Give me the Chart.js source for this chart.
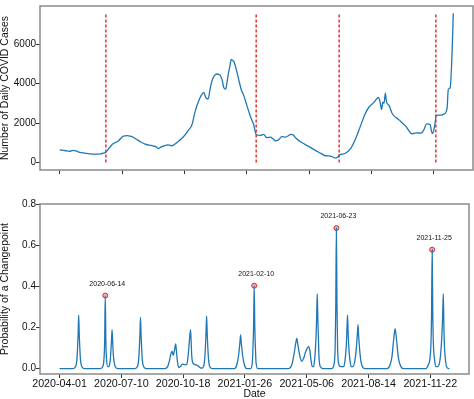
<!DOCTYPE html>
<html>
<head>
<meta charset="utf-8">
<script src="https://cdn.jsdelivr.net/npm/chart.js@4"></script>
<style>
  body { margin: 0; background: #fff; }
  .box { position: absolute; left: 0; width: 474px; }
  #topBox { top: 0; height: 180px; }
  #botBox { top: 185px; height: 214px; }
</style>
</head>
<body>
<div class="box" id="topBox"><canvas id="casesChart" width="474" height="180"></canvas></div>
<div class="box" id="botBox"><canvas id="probChart" width="474" height="214"></canvas></div>
<script>
// days since 2020-04-01
const tickDays = [0, 100, 200, 300, 400, 500, 600];
const tickLabels = ["2020-04-01", "2020-07-10", "2020-10-18", "2021-01-26", "2021-05-06", "2021-08-14", "2021-11-22"];

const caseDays = [0, 8, 16, 21, 26, 32, 40, 48, 59, 66, 70, 74, 80, 85, 94, 102, 108, 113, 118, 123, 129, 137, 144, 150, 155, 158, 162, 166, 174, 180, 188, 198, 206, 212, 217, 223, 227, 231, 234, 238, 241, 244, 248, 252, 256, 258, 261, 263, 266, 268, 270, 273, 275, 278, 280, 284, 287, 291, 295, 300, 304, 308, 311, 315, 322, 327, 332, 338, 342, 346, 351, 356, 362, 371, 375, 378, 388, 402, 415, 420, 426, 434, 442, 446, 448, 450, 458, 466, 474, 482, 490, 496, 504, 511, 513, 514, 516, 518, 520, 522, 524, 528, 533, 544, 555, 565, 571, 579, 584, 588, 594, 596, 598, 601, 604, 611, 616, 621, 623, 626, 629, 631];
const caseValues = [638, 610, 570, 620, 590, 520, 480, 442, 425, 440, 471, 520, 760, 933, 1095, 1340, 1360, 1340, 1280, 1178, 1060, 933, 880, 835, 790, 702, 780, 835, 898, 850, 1011, 1291, 1620, 1915, 2568, 3142, 3400, 3550, 3304, 3217, 3700, 4124, 4400, 4483, 4450, 4384, 4100, 3795, 3713, 4000, 4434, 4900, 5219, 5150, 5057, 4600, 4203, 3700, 3400, 2897, 2500, 2150, 1915, 1424, 1375, 1424, 1259, 1290, 1200, 1095, 1150, 1308, 1290, 1424, 1380, 1259, 1011, 767, 520, 440, 343, 327, 228, 277, 380, 409, 471, 687, 1178, 1831, 2486, 2813, 3059, 3304, 3150, 3000, 2680, 3059, 3000, 3516, 3059, 2897, 2486, 2160, 1831, 1453, 1500, 1490, 1669, 1963, 1915, 1586, 1473, 1831, 2406, 2406, 2455, 2730, 3712, 3795, 5514, 7560];

const probDays = [0, 22, 26, 28, 29, 30, 31, 32, 33, 34, 36, 40, 66, 70, 72, 73, 74, 75, 76, 78, 80, 82, 83, 84, 85, 86, 87, 88, 90, 94, 122, 126, 128, 129, 130, 131, 132, 133, 134, 136, 140, 170, 175, 178, 180, 182, 184, 186, 188, 189, 191, 193, 196, 199, 203, 206, 208, 210, 212, 213, 214, 216, 222, 230, 233, 235, 236, 237, 238, 239, 240, 241, 243, 247, 283, 287, 290, 292, 293, 294, 296, 299, 303, 309, 312, 313, 314, 315, 316, 317, 318, 321, 370, 376, 380, 382, 384, 386, 389, 392, 395, 398, 401, 403, 405, 407, 409, 411, 413, 415, 416, 417, 418, 419, 420, 422, 426, 440, 444, 446, 447, 448, 449, 450, 452, 455, 460, 462, 464, 465, 466, 467, 468, 470, 472, 475, 478, 480, 482, 483, 484, 486, 488, 491, 495, 530, 535, 538, 541, 543, 545, 548, 551, 556, 593, 597, 599, 601, 602, 603, 604, 605, 607, 609, 612, 615, 617, 619, 620, 621, 622, 623, 625, 627, 631];
const probValues = [0, 0, 0.01, 0.04, 0.09, 0.16, 0.26, 0.16, 0.09, 0.04, 0.01, 0, 0, 0.01, 0.05, 0.13, 0.355, 0.13, 0.05, 0.01, 0.01, 0.04, 0.08, 0.13, 0.19, 0.13, 0.07, 0.04, 0.01, 0, 0, 0.01, 0.04, 0.09, 0.16, 0.25, 0.16, 0.09, 0.04, 0.01, 0, 0, 0.01, 0.04, 0.07, 0.085, 0.065, 0.09, 0.12, 0.09, 0.03, 0.005, 0.012, 0.022, 0.02, 0.02, 0.06, 0.13, 0.19, 0.13, 0.06, 0.027, 0.017, 0.002, 0.01, 0.05, 0.1, 0.17, 0.256, 0.17, 0.1, 0.05, 0.01, 0, 0, 0.02, 0.07, 0.13, 0.164, 0.13, 0.07, 0.02, 0, 0, 0.03, 0.1, 0.2, 0.403, 0.2, 0.1, 0.03, 0, 0, 0.02, 0.08, 0.12, 0.147, 0.11, 0.06, 0.035, 0.05, 0.08, 0.1, 0.107, 0.09, 0.04, 0.01, 0.01, 0.05, 0.15, 0.24, 0.364, 0.24, 0.14, 0.05, 0.01, 0, 0, 0.02, 0.1, 0.3, 0.683, 0.3, 0.1, 0.02, 0.01, 0.01, 0.04, 0.11, 0.18, 0.26, 0.18, 0.11, 0.04, 0.01, 0.01, 0.04, 0.09, 0.17, 0.214, 0.16, 0.08, 0.03, 0.005, 0, 0, 0.02, 0.06, 0.15, 0.194, 0.15, 0.06, 0.02, 0, 0, 0.02, 0.04, 0.12, 0.26, 0.578, 0.26, 0.12, 0.04, 0.01, 0.01, 0.03, 0.08, 0.18, 0.26, 0.364, 0.2, 0.1, 0.03, 0.005, 0];

const changeDays = [74, 315, 448, 603];
const changeLabels = ["2020-06-14", "2021-02-10", "2021-06-23", "2021-11-25"];
const changeProbs = [0.355, 0.403, 0.683, 0.578];

const blue = "#1f77b4";
const red = "#e3342f";
const fontFamily = "'Liberation Sans', Arial, sans-serif";

Chart.defaults.font.family = fontFamily;
Chart.defaults.font.size = 10.5;
Chart.defaults.color = "#111";

// matplotlib style frame around the axes
const frame = {
  id: "frame",
  afterDraw(chart) {
    const a = chart.chartArea, ctx = chart.ctx;
    ctx.save();
    ctx.strokeStyle = "#8a8a8a";
    ctx.lineWidth = 1.5;
    ctx.strokeRect(a.left, a.top, a.right - a.left, a.bottom - a.top);
    ctx.restore();
  }
};

const dateLabels = {
  id: "dateLabels",
  afterDatasetsDraw(chart) {
    const ctx = chart.ctx, xs = chart.scales.x, ys = chart.scales.y;
    ctx.save();
    ctx.font = "7px " + fontFamily;
    ctx.fillStyle = "#111";
    ctx.textAlign = "center";
    ctx.textBaseline = "middle";
    changeDays.forEach((d, i) => {
      ctx.fillText(changeLabels[i], xs.getPixelForValue(d) + 2, ys.getPixelForValue(changeProbs[i]) - 12);
    });
    ctx.restore();
  }
};

const xRange = { min: -31.6, max: 662.6 };

function xAxis(showLabels, height) {
  return {
    type: "linear",
    min: xRange.min,
    max: xRange.max,
    afterBuildTicks: s => { s.ticks = tickDays.map(v => ({ value: v })); },
    afterFit: s => { s.height = height; },
    grid: { drawOnChartArea: false, tickLength: 4, color: "#333" },
    border: { display: false },
    ticks: {
      display: showLabels,
      padding: 0,
      maxRotation: 0,
      autoSkip: false,
      font: { size: 10.7 },
      callback: v => tickLabels[tickDays.indexOf(v)]
    },
    title: showLabels ? { display: true, text: "Date", padding: { top: 0, bottom: -1 }, color: "#111" } : { display: false }
  };
}

function yAxis(min, max, ticks, fmt, label) {
  return {
    min: min,
    max: max,
    afterBuildTicks: s => { s.ticks = ticks.map(v => ({ value: v })); },
    afterFit: s => { s.width = 40; },
    grid: { drawOnChartArea: false, tickLength: 4, color: "#333" },
    border: { display: false },
    ticks: { padding: 0, font: { size: 10 }, callback: fmt },
    title: { display: true, text: label, padding: { top: -1.5, bottom: 0 }, color: "#111" }
  };
}

const vlineTop = Math.max(...caseValues);
const vlines = changeDays.map(d => ({
  data: [{ x: d, y: 0 }, { x: d, y: vlineTop }],
  borderColor: red,
  borderWidth: 1.5,
  borderDash: [3, 2],
  pointRadius: 0
}));

new Chart(document.getElementById("casesChart"), {
  type: "line",
  data: {
    datasets: [{
      data: caseDays.map((d, i) => ({ x: d, y: caseValues[i] })),
      borderColor: blue,
      borderWidth: 1.3,
      pointRadius: 0,
      cubicInterpolationMode: "monotone"
    }].concat(vlines)
  },
  options: {
    responsive: false,
    animation: false,
    layout: { padding: { top: 1, right: 1, left: 0, bottom: 0 } },
    plugins: { legend: { display: false }, tooltip: { enabled: false } },
    scales: {
      x: xAxis(false, 10),
      y: yAxis(-378, 7928, [0, 2000, 4000, 6000], v => String(v), "Number of Daily COVID Cases")
    }
  },
  plugins: [frame]
});

new Chart(document.getElementById("probChart"), {
  type: "line",
  data: {
    datasets: [{
      data: probDays.map((d, i) => ({ x: d, y: probValues[i] })),
      borderColor: blue,
      borderWidth: 1.3,
      pointRadius: 0,
      cubicInterpolationMode: "monotone"
    }, {
      data: changeDays.map((d, i) => ({ x: d, y: changeProbs[i] })),
      showLine: false,
      pointRadius: 2.5,
      pointBorderWidth: 1,
      pointBorderColor: "#d62728",
      pointBackgroundColor: "rgba(214,39,40,0.35)"
    }]
  },
  options: {
    responsive: false,
    animation: false,
    layout: { padding: { top: 19, right: 1, left: 0, bottom: 0 } },
    plugins: { legend: { display: false }, tooltip: { enabled: false } },
    scales: {
      x: xAxis(true, 25),
      y: yAxis(-0.026, 0.8, [0, 0.2, 0.4, 0.6, 0.8], v => v.toFixed(1), "Probability of a Changepoint")
    }
  },
  plugins: [frame, dateLabels]
});
</script>
</body>
</html>
